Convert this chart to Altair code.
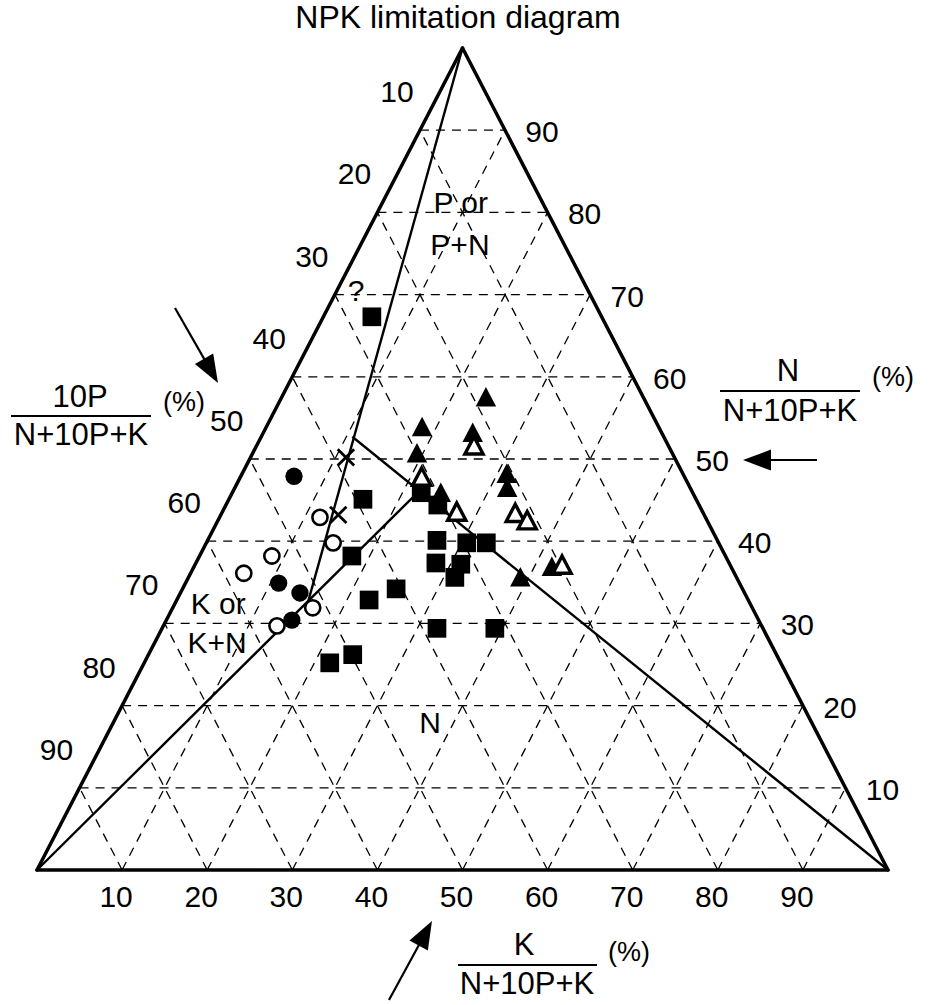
import altair as alt
import pandas as pd

FONT = "Liberation Sans, Arial, Helvetica, sans-serif"

# ---- data: shares in % of (N + 10P + K); 10P share = 100 - N - K ----
ticks = [10, 20, 30, 40, 50, 60, 70, 80, 90]

sq_N = [67.3, 45.1, 38.2, 45.9, 44.4, 40.1, 39.8, 39.8, 37.35, 37.2, 35.6, 34.2, 32.85, 29.4, 29.4, 26.2, 25.2]
sq_K = [5.7, 15.75, 17.9, 22.2, 24.9, 26.95, 30.6, 32.9, 28.2, 31.2, 31.3, 25.1, 22.6, 32.3, 39.1, 24.0, 21.8]

tri_N = [57.5, 53.9, 53.2, 50.7, 45.9, 48.2, 46.5, 35.6, 36.9]
tri_K = [24.0, 18.3, 24.6, 19.3, 24.5, 31.1, 32.0, 39.0, 42.05]

otri_N = [51.6, 47.8, 43.55, 43.4, 42.5, 37.1]
otri_K = [25.55, 21.3, 27.55, 34.5, 36.35, 43.15]

dot_N = [47.9, 34.9, 33.7, 30.4]
dot_K = [6.25, 10.95, 14.05, 14.75]

ring_N = [42.9, 39.8, 38.2, 36.1, 31.9, 29.7]
ring_K = [11.8, 14.9, 8.5, 6.25, 16.45, 13.35]

x_N = [50.2, 43.2]
x_K = [11.2, 13.8]

# boundary lines (start N, start K, end N, end K)
bound_N1 = [100.0, 0.0, 0.0]
bound_K1 = [0.0, 0.0, 100.0]
bound_N2 = [32.8, 46.1, 52.7]
bound_K2 = [15.5, 21.85, 10.7]

region_text = ["P or", "P+N", "K or", "K+N", "N", "?"]
region_N = [81.0, 75.9, 32.2, 27.5, 17.8, 70.3]
region_K = [9.3, 11.75, 5.2, 7.4, 37.3, 2.35]


def tx(n, k):
    return k + n / 2.0


xs = alt.Scale(domain=[0, 100], nice=False, zero=False)
ys = alt.Scale(domain=[0, 100], nice=False, zero=False)


def seg_df(rows):
    return pd.DataFrame([
        {"x": tx(n1, k1), "y": n1, "x2": tx(n2, k2), "y2": n2} for (n1, k1, n2, k2) in rows
    ])


grid_rows = []
for t in ticks:
    grid_rows.append((t, 0, t, 100 - t))          # constant N
    grid_rows.append((0, t, 100 - t, t))          # constant K
    grid_rows.append((0, 100 - t, 100 - t, 0))    # constant 10P
grid_df = seg_df(grid_rows)

edge_df = seg_df([(0, 0, 0, 100), (0, 100, 100, 0), (100, 0, 0, 0)])
bound_df = seg_df(list(zip(bound_N1, bound_K1, bound_N2, bound_K2)))


def rule_layer(df, **kw):
    return alt.Chart(df).mark_rule(color="black", **kw).encode(
        x=alt.X("x:Q", scale=xs, axis=None),
        y=alt.Y("y:Q", scale=ys, axis=None),
        x2="x2:Q",
        y2="y2:Q",
    )


def pts(ns, ks):
    return pd.DataFrame({"x": [tx(n, k) for n, k in zip(ns, ks)], "y": ns})


def point_layer(df, **kw):
    return alt.Chart(df).mark_point(color="black", opacity=1, **kw).encode(
        x=alt.X("x:Q", scale=xs, axis=None),
        y=alt.Y("y:Q", scale=ys, axis=None),
    )


TRI = "M0,-1L1,0.9L-1,0.9Z"

grid = rule_layer(grid_df, strokeWidth=1.3, strokeDash=[9, 7])
bounds = rule_layer(bound_df, strokeWidth=2.4)
edges = rule_layer(edge_df, strokeWidth=3.5, strokeCap="round")

squares = point_layer(pts(sq_N, sq_K), shape="square", filled=True, size=350)
tris = point_layer(pts(tri_N, tri_K), shape=TRI, filled=True, size=420)
otris = point_layer(pts(otri_N, otri_K), shape=TRI, filled=True, fill="white",
                    stroke="black", strokeWidth=3.4, size=330)
dots = point_layer(pts(dot_N, dot_K), shape="circle", filled=True, size=300)
rings = point_layer(pts(ring_N, ring_K), shape="circle", filled=True, fill="white",
                    stroke="black", strokeWidth=2.6, size=230)
xmarks = point_layer(pts(x_N, x_K), shape="M-1,-1L1,1M-1,1L1,-1", filled=False,
                     strokeWidth=2.8, size=270)


def tick_text(ns, ks, dx, dy):
    df = pd.DataFrame({"x": [tx(n, k) for n, k in zip(ns, ks)], "y": ns, "t": [str(v) for v in ticks]})
    return alt.Chart(df).mark_text(font=FONT, fontSize=30, color="black", dx=dx, dy=dy,
                                   align="center", baseline="middle").encode(
        x=alt.X("x:Q", scale=xs, axis=None), y=alt.Y("y:Q", scale=ys, axis=None), text="t:N")


bottom_ticks = tick_text([0] * 9, ticks, -6, 28)
right_ticks = tick_text(ticks, [100 - t for t in ticks], 37, 3)
left_ticks = tick_text([100 - t for t in ticks], [0] * 9, -23, -37)

region_df = pd.DataFrame({"x": [tx(n, k) for n, k in zip(region_N, region_K)], "y": region_N, "t": region_text})
regions = alt.Chart(region_df).mark_text(font=FONT, fontSize=30, color="black", align="center",
                                         baseline="middle").encode(
    x=alt.X("x:Q", scale=xs, axis=None), y=alt.Y("y:Q", scale=ys, axis=None), text="t:N")

# ---- decorations outside the triangle (pixel positions relative to the plot origin) ----
OX, OY = 37, 48
one = pd.DataFrame({"a": [0]})


def label(text, px, py, size):
    return alt.Chart(one).mark_text(text=text, font=FONT, fontSize=size, color="black",
                                    align="center", baseline="middle").encode(
        x=alt.value(px - OX), y=alt.value(py - OY))


def line(x1, y1, x2, y2, w):
    return alt.Chart(one).mark_rule(color="black", strokeWidth=w).encode(
        x=alt.value(x1 - OX), y=alt.value(y1 - OY), x2=alt.value(x2 - OX), y2=alt.value(y2 - OY))


def arrow(x1, y1, tipx, tipy, angle):
    L = 28.0
    dx, dy = tipx - x1, tipy - y1
    d = (dx * dx + dy * dy) ** 0.5
    cx, cy = tipx - dx / d * L / 2, tipy - dy / d * L / 2
    shaft = line(x1, y1, cx, cy, 2.2)
    head = alt.Chart(one).mark_point(shape="M0,-1L-0.75,1L0.75,1Z", filled=True, color="black",
                                     opacity=1, size=L * L, angle=angle).encode(
        x=alt.value(cx - OX), y=alt.value(cy - OY))
    return shaft + head


deco = [
    label("NPK limitation diagram", 458, 18, 32),
    # left axis title
    label("10P", 80, 398, 31), line(11, 416, 151, 416, 2), label("N+10P+K", 81, 436, 31),
    label("(%)", 184, 403, 27),
    # right axis title
    label("N", 788, 372, 31), line(720, 391, 860, 391, 2), label("N+10P+K", 790, 412, 31),
    label("(%)", 893, 378, 27),
    # bottom axis title
    label("K", 524, 946, 31), line(458, 965, 597, 965, 2), label("N+10P+K", 527, 985, 31),
    label("(%)", 629, 953, 27),
    arrow(175, 308, 218, 383, 150.2),
    arrow(817, 460, 743, 460, 270),
    arrow(389, 1000, 432, 921, 28.5),
]

chart = alt.layer(
    grid, bounds, edges, squares, tris, otris, dots, rings, xmarks,
    bottom_ticks, right_ticks, left_ticks, regions, *deco
).properties(
    width=851, height=822,
    autosize=alt.AutoSizeParams(type="none"),
    padding={"left": 37, "top": 48, "right": 52, "bottom": 135},
    background="white",
).configure_view(stroke=None)

chart.save("out.html", embed_options={"renderer": "svg", "actions": False})
